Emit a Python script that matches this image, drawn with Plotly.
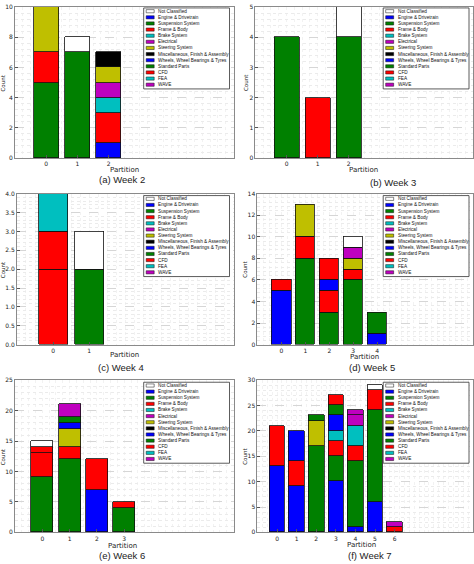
import plotly.graph_objects as go

W, H = 474, 564

categories = ["Not Classified", "Engine & Drivetrain", "Suspension System", "Frame & Body",
              "Brake System", "Electrical", "Steering System", "Miscellaneous, Finish & Assembly",
              "Wheels, Wheel Bearings & Tyres", "Standard Parts", "CFD", "FEA", "WAVE"]
colors = ["#ffffff", "#0000ff", "#008000", "#ff0000", "#00bfbf", "#bf00bf", "#bfbf00",
          "#000000", "#0000ff", "#008000", "#ff0000", "#00bfbf", "#bf00bf"]

# counts per category, one value per partition
week2 = {"Not Classified": [0, 1, 0], "Engine & Drivetrain": [0, 0, 1],
         "Suspension System": [5, 7, 0], "Frame & Body": [2, 0, 2], "Brake System": [0, 0, 1],
         "Electrical": [0, 0, 1], "Steering System": [3, 0, 1],
         "Miscellaneous, Finish & Assembly": [0, 0, 1]}
week3 = {"Not Classified": [0, 0, 1], "Suspension System": [4, 0, 4], "Frame & Body": [0, 2, 0]}
week4 = {"Not Classified": [0, 1], "Suspension System": [0, 2], "Frame & Body": [2, 0],
         "CFD": [1, 0], "FEA": [1, 0]}
week5 = {"Not Classified": [0, 0, 0, 1, 0], "Engine & Drivetrain": [5, 0, 0, 0, 1],
         "Suspension System": [0, 8, 3, 6, 2], "Frame & Body": [1, 2, 2, 1, 0],
         "Steering System": [0, 3, 0, 1, 0], "Wheels, Wheel Bearings & Tyres": [0, 0, 1, 0, 0],
         "CFD": [0, 0, 2, 0, 0], "WAVE": [0, 0, 0, 1, 0]}
week6 = {"Not Classified": [1, 0, 0, 0], "Engine & Drivetrain": [0, 0, 7, 0],
         "Suspension System": [9, 12, 0, 4], "Frame & Body": [4, 2, 5, 1],
         "Steering System": [0, 3, 0, 0], "Wheels, Wheel Bearings & Tyres": [0, 1, 0, 0],
         "Standard Parts": [0, 1, 0, 0], "CFD": [1, 0, 0, 0], "WAVE": [0, 2, 0, 0]}
week7 = {"Not Classified": [0, 0, 0, 0, 0, 1, 0], "Engine & Drivetrain": [13, 9, 0, 10, 1, 6, 0],
         "Suspension System": [0, 0, 17, 5, 13, 18, 0], "Frame & Body": [8, 5, 0, 3, 3, 4, 1],
         "Brake System": [0, 0, 0, 2, 4, 0, 0], "Electrical": [0, 0, 0, 0, 2, 0, 1],
         "Steering System": [0, 0, 5, 0, 0, 0, 0],
         "Wheels, Wheel Bearings & Tyres": [0, 6, 0, 3, 0, 0, 0],
         "Standard Parts": [0, 0, 1, 2, 0, 0, 0], "CFD": [0, 0, 0, 2, 0, 0, 0],
         "WAVE": [0, 0, 0, 0, 1, 0, 0]}

captions = ["(a) Week 2", "(b) Week 3", "(c) Week 4", "(d) Week 5", "(e) Week 6", "(f) Week 7"]
weeks = [week2, week3, week4, week5, week6, week7]
n_parts = [3, 3, 2, 5, 4, 7]
ymax = [10, 5, 4, 14, 25, 30]
ydtick = [2, 1, 0.5, 2, 5, 5]

# layout (pixels): plot box [x0, x1, ytop, ybottom], caption, x-title positions
boxes = [(15, 234, 3, 156), (256, 476, 3, 156), (17, 234, 192, 345),
         (258, 476, 192, 345), (15, 234, 381, 535), (258, 476, 381, 535)]
cap_pos = [(122, 178), (394, 181), (121, 368), (373, 368), (122, 558), (371, 558)]
part_pos = [(125, 168), (364, 168), (125, 355), (365, 357), (123, 548.5), (362, 548)]
count_x = [3, 246, 3, 246, 3, 246]

stack_order = categories[1:] + [categories[0]]
cmap = dict(zip(categories, colors))

def px(x):
    return x / W

def py(y):
    return 1 - y / H

fig = go.Figure()
shapes, annos = [], []
FONT = "DejaVu Sans"
LFONT = "Liberation Sans"

for i, wk in enumerate(weeks):
    k = "" if i == 0 else str(i + 1)
    n = n_parts[i]
    for cat in stack_order:
        vals = wk.get(cat, [0] * n)
        if not any(vals):
            continue
        fig.add_trace(go.Bar(
            x=list(range(n)), y=[v if v else None for v in vals], width=0.8,
            marker=dict(color=cmap[cat], line=dict(color="#111111", width=0.8)),
            xaxis="x" + k, yaxis="y" + k, showlegend=False, name=cat))
    x0, x1, yt, yb = boxes[i]
    axis_common = dict(showline=True, mirror=True, linecolor="#8a8a8a", linewidth=1,
                       ticks="inside", ticklen=3, tickcolor="#555",
                       tickfont=dict(size=6, family=FONT, color="#222"),
                       zeroline=False, gridcolor="#d6d6d6", griddash="dash", gridwidth=0.6)
    fig.layout["xaxis" + k] = dict(axis_common, domain=[px(x0), px(min(x1, W))],
                                   range=[-1, n + 3], tickvals=list(range(n)),
                                   anchor="y" + k, showgrid=False,
                                   minor=dict(dtick=0.25, showgrid=True, gridcolor="#f2f2f2",
                                              griddash="dot", gridwidth=0.6, ticklen=0))
    fig.layout["yaxis" + k] = dict(axis_common, domain=[py(yb), py(yt)],
                                   range=[0, ymax[i]], dtick=ydtick[i],
                                   tickformat=".1f" if ydtick[i] < 1 else "d",
                                   anchor="x" + k, showgrid=True,
                                   minor=dict(dtick=ydtick[i] / 5, showgrid=True,
                                              gridcolor="#ebebeb", griddash="dot",
                                              gridwidth=0.6, ticklen=0))
    # caption, axis titles
    annos.append(dict(x=px(cap_pos[i][0]), y=py(cap_pos[i][1]), xref="paper", yref="paper",
                      text=captions[i], showarrow=False, xanchor="center", yanchor="middle",
                      font=dict(size=9.5, family=LFONT, color="#222")))
    annos.append(dict(x=px(part_pos[i][0]), y=py(part_pos[i][1]), xref="paper", yref="paper",
                      text="Partition", showarrow=False, xanchor="center", yanchor="middle",
                      font=dict(size=7, family=FONT, color="#222")))
    annos.append(dict(x=px(count_x[i]), y=py((yt + yb) / 2), xref="paper", yref="paper",
                      text="Count", showarrow=False, textangle=-90, xanchor="center",
                      yanchor="middle", font=dict(size=5.5, family=FONT, color="#222")))
    # legend box
    lr = min(x1, W) - 4 if i % 2 == 0 else 470
    ll = lr - 86
    lt = yt + 1 if i < 2 else yt + 2
    lb = lt + 82
    shapes.append(dict(type="rect", xref="paper", yref="paper", x0=px(ll), x1=px(lr),
                       y0=py(lb), y1=py(lt), fillcolor="white",
                       line=dict(color="#333", width=0.8), layer="above"))
    for j, cat in enumerate(categories):
        cy = lt + 3.3 + j * 6.2
        shapes.append(dict(type="rect", xref="paper", yref="paper",
                           x0=px(ll + 2.5), x1=px(ll + 10.5), y0=py(cy + 1.6), y1=py(cy - 1.6),
                           fillcolor=cmap[cat], line=dict(color="#111", width=0.5),
                           layer="above"))
        annos.append(dict(x=px(ll + 12.5), y=py(cy), xref="paper", yref="paper", text=cat,
                          showarrow=False, xanchor="left", yanchor="middle",
                          font=dict(size=4.7, family=LFONT, color="#111")))

fig.update_layout(width=W, height=H, margin=dict(l=0, r=0, t=0, b=0),
                  paper_bgcolor="white", plot_bgcolor="white", barmode="stack",
                  bargap=0, shapes=shapes, annotations=annos, showlegend=False)
fig.write_html("out.html")
